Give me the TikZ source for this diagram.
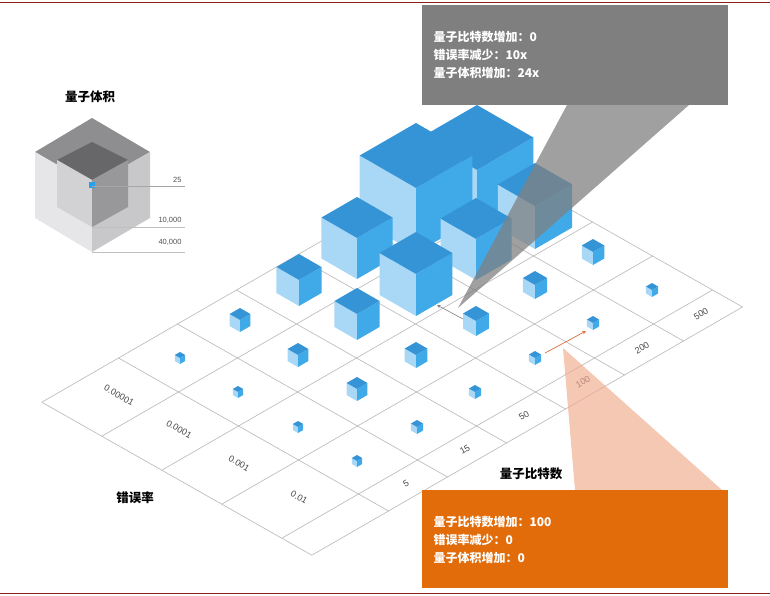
\documentclass[tikz,border=0pt]{standalone}
\usepackage{fontspec}
\setsansfont{Liberation Sans}
\newfontfamily\cjk{Noto Sans CJK SC}
\definecolor{cL}{RGB}{168,216,245}
\definecolor{cR}{RGB}{64,170,232}
\definecolor{cT}{RGB}{53,148,214}
\definecolor{gridc}{RGB}{190,190,190}
\definecolor{glab}{RGB}{70,70,70}
\definecolor{vlab}{RGB}{80,80,80}
\definecolor{frame}{RGB}{140,30,30}
\definecolor{oarrow}{RGB}{220,110,60}
\definecolor{gbox}{RGB}{127,127,127}
\definecolor{otri}{RGB}{240,170,140}
\definecolor{obox}{RGB}{227,108,10}
\definecolor{k1}{RGB}{142,142,145}
\definecolor{k2}{RGB}{230,230,232}
\definecolor{k3}{RGB}{200,200,203}
\definecolor{k4}{RGB}{103,103,106}
\definecolor{k5}{RGB}{210,210,212}
\definecolor{k6}{RGB}{152,152,155}
\definecolor{dot}{RGB}{40,160,235}
\begin{document}
\begin{tikzpicture}[x=1pt,y=-1pt,
  cubeL/.style={fill=cL},
  cubeR/.style={fill=cR},
  cubeT/.style={fill=cT},
  gridline/.style={draw=gridc,line width=0.7pt},
  glabel/.style={font=\sffamily\fontsize{9}{10}\selectfont,text=glab,inner sep=0pt},
  boxtxt/.style={anchor=west,font=\cjk\bfseries\fontsize{12}{14}\selectfont,text=white},
  title/.style={font=\cjk\bfseries\fontsize{12.5}{14}\selectfont},
  vlabel/.style={font=\sffamily\fontsize{7.5}{9}\selectfont,text=vlab}]
\useasboundingbox (0,0) rectangle (770,596);
\newcommand\qcube[3]{%
 \pgfmathsetmacro\qa{0.866*#3}\pgfmathsetmacro\qh{0.5*#3}%
 \fill[cubeL] (#1,#2) -- ++(-\qa,-\qh) -- ++(0,-#3) -- ++(\qa,\qh) -- cycle;
 \fill[cubeR] (#1,#2) -- ++(\qa,-\qh) -- ++(0,-#3) -- ++(-\qa,\qh) -- cycle;
 \fill[cubeT] (#1,#2-#3) -- ++(-\qa,-\qh) -- ++(\qa,-\qh) -- ++(\qa,\qh) -- cycle;}
% frame lines
\draw[frame,line width=0.8pt] (0,2) -- (770,2);
\draw[frame,line width=0.8pt] (0,593) -- (770,593);
% grid
\begin{scope}[shift={(358.5,494)},x={(59pt,34pt)},y={(-60pt,34pt)}]
 \foreach \u in {-1.3,0,1,2,3,4,5,6} \draw[gridline] (\u,-0.5) -- (\u,4);
 \foreach \v in {-0.5,0,1,2,3,4} \draw[gridline] (-1.3,\v) -- (6,\v);
 \foreach \t [count=\j from 0] in {0.01,0.001,0.0001,0.00001}
   \node[glabel,rotate=-30] (e\j) at (-0.55,\j+0.45) {\t};
 \foreach \t [count=\i from 0] in {5,15,50,100,200,500}
   \node[glabel,rotate=30] (q\i) at (\i+0.55,-0.25) {\t};
\end{scope}
% cubes (back to front)
\qcube{477}{235}{65}
\qcube{535}{249}{43}
\qcube{416}{253}{65}
\qcube{593}{265}{13}
\qcube{357}{279}{41}
\qcube{476}{280}{41}
\qcube{652}{297}{7}
\qcube{535}{299}{14}
\qcube{299}{306}{26}
\qcube{416}{316}{42}
\qcube{593}{330}{7}
\qcube{240}{332}{12}
\qcube{476}{336}{15}
\qcube{357}{340}{26}
\qcube{180}{364}{6}
\qcube{535}{365}{7}
\qcube{298}{367}{12}
\qcube{416}{368}{13}
\qcube{238}{398}{6}
\qcube{475}{399}{7}
\qcube{357}{401}{12}
\qcube{298}{433}{6}
\qcube{417}{434}{7}
\qcube{357}{467}{6}
% arrows
\coordinate (ga) at (463,319); \coordinate (gb) at (437,305);
\draw[gray,-stealth,line width=0.6pt] (ga) -- (gb);
\coordinate (oa) at (545,353); \coordinate (ob) at (586,331);
\draw[oarrow,-stealth,line width=0.7pt] (oa) -- (ob);
% grey callout
\fill[gray,opacity=0.75] (458,308) -- (567,105) -- (689,105) -- cycle;
\fill[gbox] (422,5) rectangle (728,105);
\node[boxtxt] (g1) at (430,37) {量子比特数增加：0};
\node[boxtxt] (g2) at (430,55) {错误率减少：10x};
\node[boxtxt] (g3) at (430,73) {量子体积增加：24x};
% orange callout
\fill[otri,opacity=0.65] (563,348) -- (575,490) -- (722,490) -- cycle;
\fill[obox] (422,490) rectangle (728,588);
\node[boxtxt] (o1) at (430,522) {量子比特数增加：100};
\node[boxtxt] (o2) at (430,540) {错误率减少：0};
\node[boxtxt] (o3) at (430,558) {量子体积增加：0};
% titles
\node[title] (tv) at (90,97) {量子体积};
\node[title] (te) at (135,498) {错误率};
\node[title] (tq) at (531,474) {量子比特数};
% quantum volume cube
\fill[k1] (92,118) -- (150,152) -- (92,185) -- (35,152) -- cycle;
\fill[k2] (35,152) -- (92,185) -- (92,252) -- (35,218) -- cycle;
\fill[k3] (92,185) -- (150,152) -- (150,218) -- (92,252) -- cycle;
\fill[k4] (57,160) -- (92,142) -- (128,160) -- (92,180) -- cycle;
\fill[k5] (57,160) -- (92,180) -- (92,227) -- (57,207) -- cycle;
\fill[k6] (92,180) -- (128,160) -- (128,207) -- (92,227) -- cycle;
\fill[dot] (89,182) rectangle (95,188);
\coordinate (l1) at (92,186); \coordinate (l1e) at (185,186);
\coordinate (l2) at (92,227); \coordinate (l2e) at (185,227);
\coordinate (l3) at (92,252); \coordinate (l3e) at (185,252);
\draw[gray!70] (l1) -- (l1e); \draw[gray!50] (l2) -- (l2e); \draw[gray!50] (l3) -- (l3e);
\node[vlabel,anchor=south east] (n25) at (185,186) {25};
\node[vlabel,anchor=south east] (n10) at (185,227) {10,000};
\node[vlabel,anchor=south east] (n40) at (185,249) {40,000};
\end{tikzpicture}
\end{document}
